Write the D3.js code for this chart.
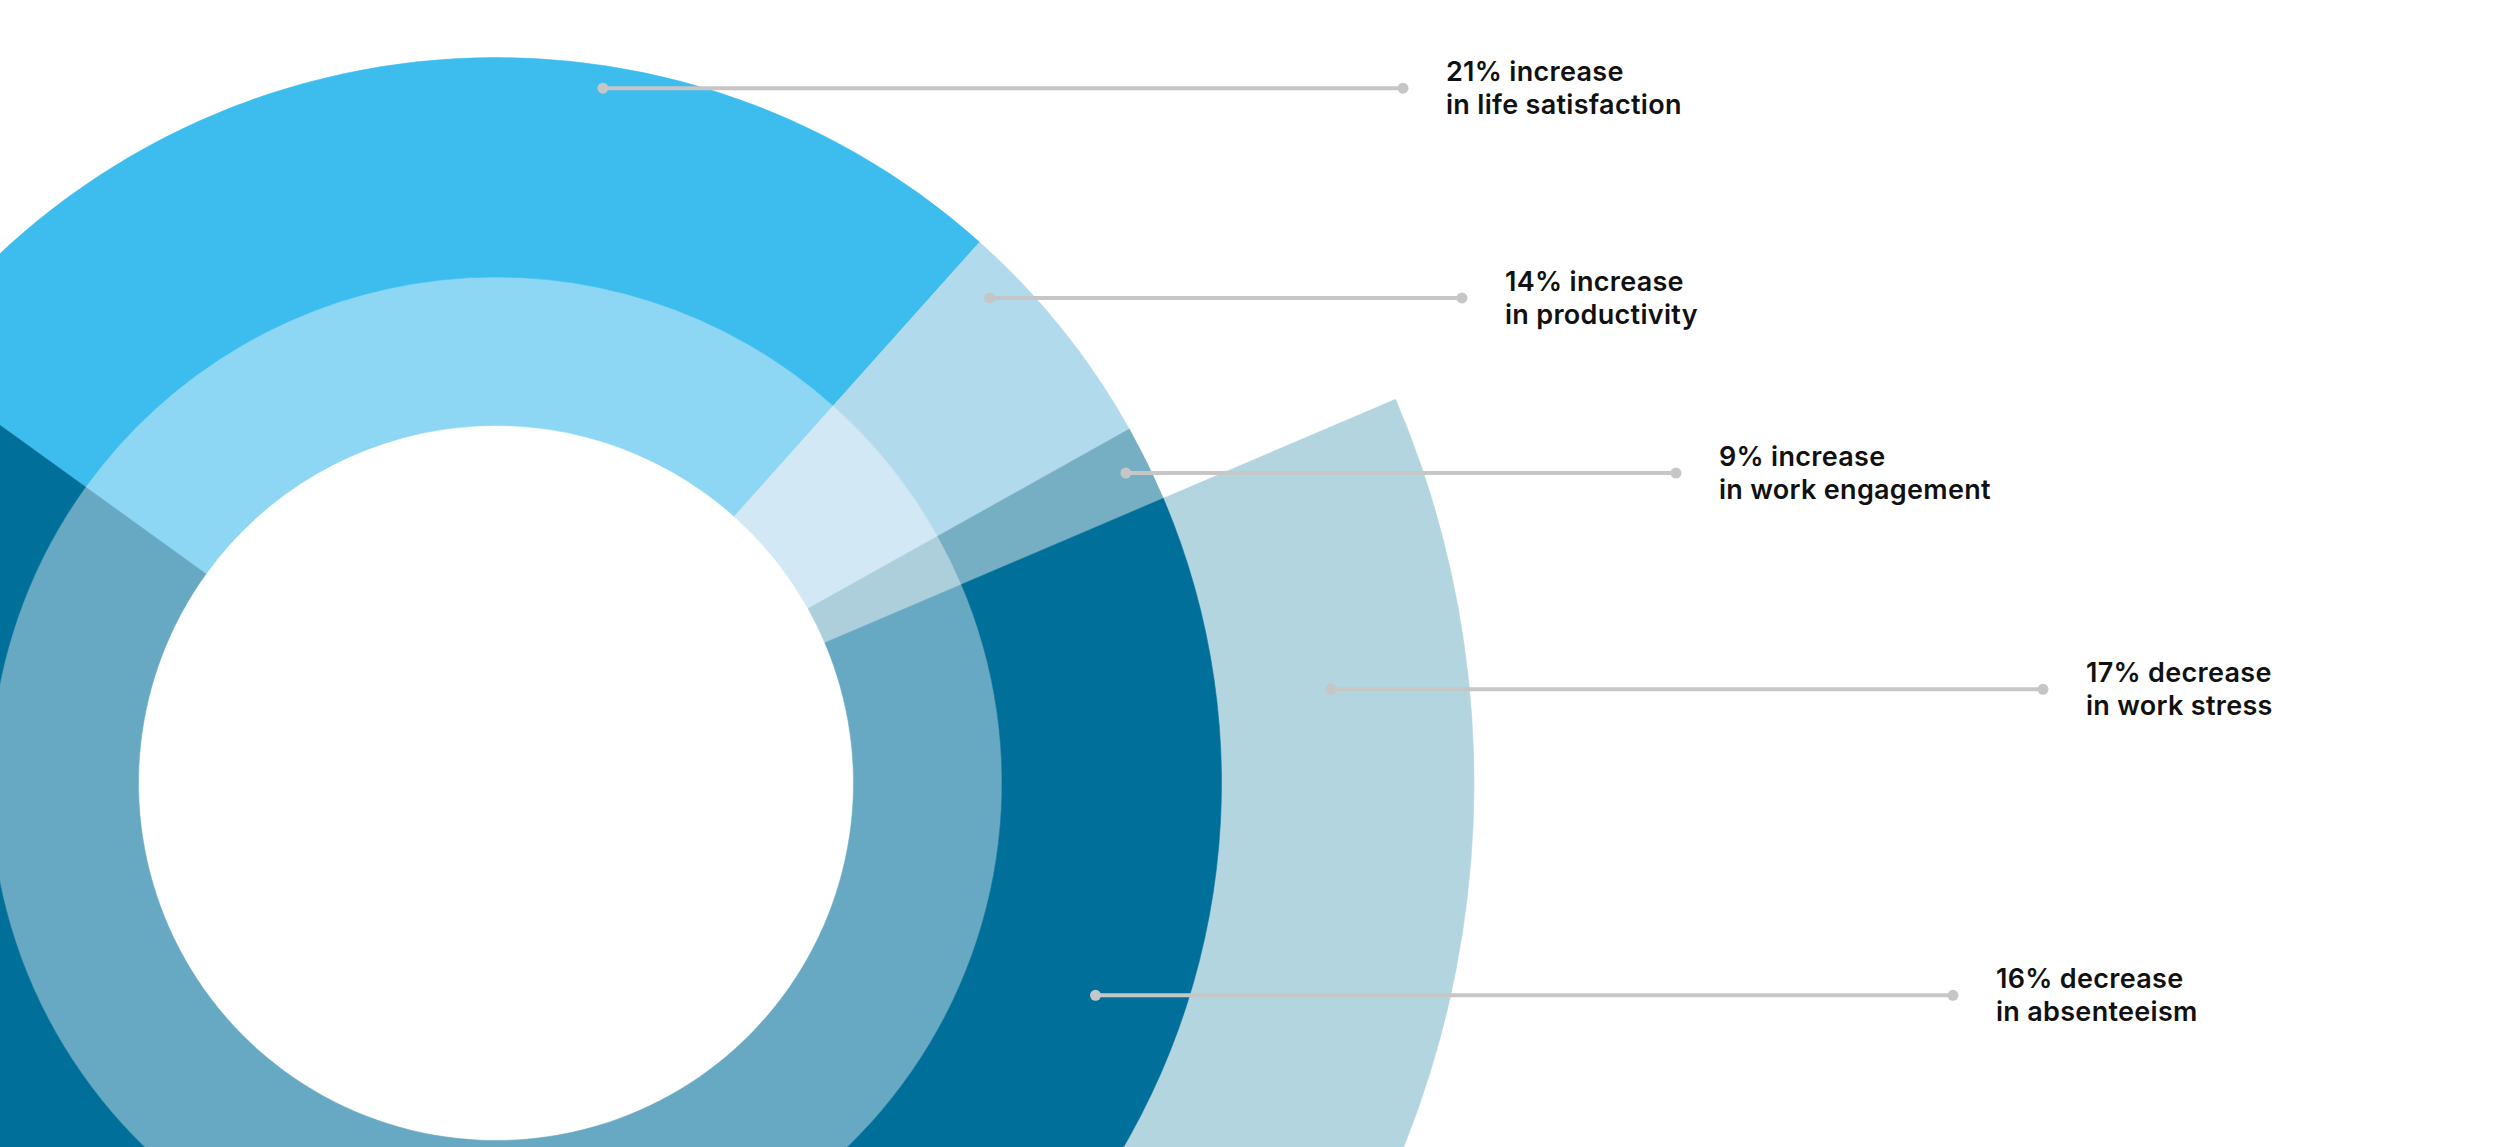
<!DOCTYPE html>
<html>
<head>
<meta charset="utf-8">
<script src="https://cdn.jsdelivr.net/npm/d3@7"></script>
<style>
  html, body { margin: 0; padding: 0; background: #fff; }
  svg { display: block; }
  .label { font-family: Inter, "Noto Sans", sans-serif; font-weight: 600; font-size: 27px; letter-spacing: 0.3px; fill: #111; }
</style>
</head>
<body>
<svg id="chart"></svg>
<script>
//Chart values
const labels = ['life satisfaction', 'productivity', 'work engagement', 'work stress', 'absenteeism'];
const values = [21, 14, 9, 17, 16];
const changes = ['increase', 'increase', 'increase', 'decrease', 'decrease'];

//Sector edges in degrees, clockwise from 12 o'clock
const sectorStart = [-54.2, 41.8, 60.8, 66.9, 66.9];
const sectorEnd = [41.8, 60.8, 66.9, 135, 305.8];

//Which rings each sector covers (0 = inner hole edge)
const ringFrom = [0, 0, 0, 2, 0];
const ringTo = [2, 2, 2, 3, 2];

//Canvas
let size = { width: 2500, height: 1147 };
let center = { x: 496, y: 783 };

//Colours per sector, inner ring first
let colors = [
    ['#8dd7f5', '#3dbdee'],
    ['#d2e8f4', '#b1dbec'],
    ['#adcfdb', '#76aec3'],
    ['#b3d5e0'],
    ['#67a9c3', '#006f99']
];

//Leader lines: anchor in polar coords, right end x
let leaders = {
    angle: [8.75, 45.5, 63.8, 83.6, 109.5],
    radius: [703, 692, 702, 840, 636],
    endX: [1403, 1462, 1676, 2043, 1953]
};

let svg = d3.select('#chart')
    .attr('width', size.width)
    .attr('height', size.height);

//Scales
let angleScale = d3.scaleLinear().domain([0, 360]).range([0, 2 * Math.PI]);
let radiusScale = d3.scaleLinear().domain([0, 1, 2, 3]).range([357.5, 506, 725.5, 978]);

//Build bands from the arrays
let bands = [];
labels.forEach((name, i) => {
    for (let r = ringFrom[i]; r < ringTo[i]; r++) {
        bands.push({
            index: i,
            ring: r,
            color: colors[i][r - ringFrom[i]]
        });
    }
});

let arc = d3.arc()
    .innerRadius(d => radiusScale(d.ring))
    .outerRadius(d => radiusScale(d.ring + 1))
    .startAngle(d => angleScale(sectorStart[d.index]))
    .endAngle(d => angleScale(sectorEnd[d.index]));

let g = svg.append('g')
    .attr('transform', 'translate(' + center.x + ',' + center.y + ')');

g.selectAll('path')
    .data(bands)
    .enter()
    .append('path')
    .attr('d', arc)
    .attr('fill', d => d.color)
    .attr('stroke', d => d.color)
    .attr('stroke-width', 0.6);

//Leader lines and labels
labels.forEach((name, i) => {
    let p = d3.pointRadial(angleScale(leaders.angle[i]), leaders.radius[i]);
    let x0 = center.x + p[0];
    let y0 = center.y + p[1];
    let x1 = leaders.endX[i];

    svg.append('line')
        .attr('x1', x0).attr('y1', y0)
        .attr('x2', x1).attr('y2', y0)
        .attr('stroke', '#c6c6c6')
        .attr('stroke-width', 4);

    svg.append('circle').attr('cx', x0).attr('cy', y0).attr('r', 5.5).attr('fill', '#c6c6c6');
    svg.append('circle').attr('cx', x1).attr('cy', y0).attr('r', 5.5).attr('fill', '#c6c6c6');

    let text = svg.append('text')
        .attr('class', 'label')
        .attr('x', x1 + 43)
        .attr('y', y0 - 7);
    text.append('tspan').attr('x', x1 + 43).text(values[i] + '% ' + changes[i]);
    text.append('tspan').attr('x', x1 + 43).attr('dy', 33).text('in ' + name);
});
</script>
</body>
</html>
